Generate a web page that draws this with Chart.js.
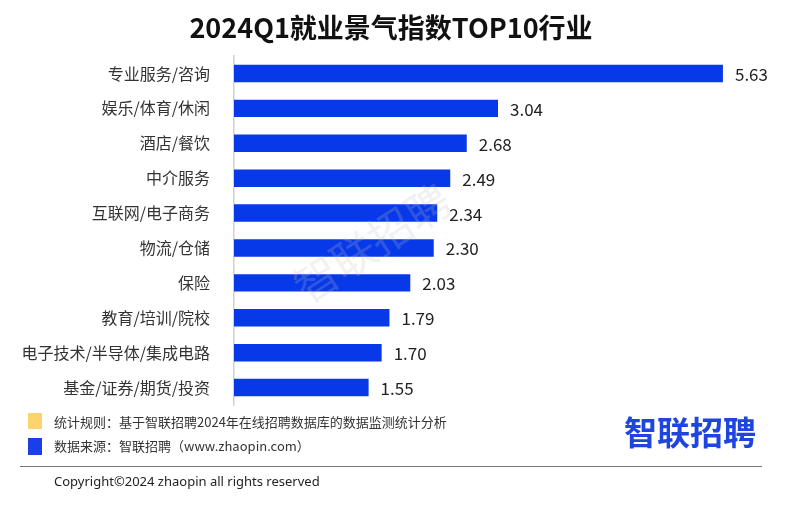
<!DOCTYPE html>
<html><head><meta charset="utf-8">
<script src="https://cdn.jsdelivr.net/npm/chart.js@4.4.1/dist/chart.umd.min.js"></script>
<style>html,body{margin:0;padding:0;background:#fff}#wrap{width:800px;height:510px}</style>
</head><body><div id="wrap"><canvas id="c" width="800" height="510"></canvas></div>
<script>
const categories = ['专业服务/咨询','娱乐/体育/休闲','酒店/餐饮','中介服务','互联网/电子商务','物流/仓储','保险','教育/培训/院校','电子技术/半导体/集成电路','基金/证券/期货/投资'];
const values = [5.63, 3.04, 2.68, 2.49, 2.34, 2.30, 2.03, 1.79, 1.70, 1.55];
const titleText = '2024Q1就业景气指数TOP10行业';
const noteRule = '统计规则：基于智联招聘2024年在线招聘数据库的数据监测统计分析';
const noteSource = '数据来源：智联招聘（www.zhaopin.com）';
const copyrightText = 'Copyright©2024 zhaopin all rights reserved';
const logoText = '智联招聘';

const CJK = '"Noto Sans CJK SC", "Noto Sans", sans-serif';
const BLUE = '#0839e8';

const valueLabels = {
  id: 'valueLabels',
  afterDatasetsDraw(chart) {
    const ctx = chart.ctx;
    const meta = chart.getDatasetMeta(0);
    ctx.save();
    ctx.font = '17px ' + CJK;
    ctx.fillStyle = '#222';
    ctx.textAlign = 'left';
    ctx.textBaseline = 'middle';
    meta.data.forEach((bar, i) => {
      ctx.fillText(values[i].toFixed(2), bar.x + 12, bar.y + 1);
    });
    ctx.restore();
  }
};

const decorations = {
  id: 'decorations',
  afterDraw(chart) {
    const ctx = chart.ctx;
    ctx.save();
    // watermark
    ctx.save();
    ctx.translate(372, 243);
    ctx.rotate(-33 * Math.PI / 180);
    ctx.font = '44px ' + CJK;
    ctx.fillStyle = 'rgba(190,190,190,0.22)';
    ctx.textAlign = 'center';
    ctx.textBaseline = 'middle';
    ctx.fillText(logoText, 0, 0);
    ctx.restore();
    // legend squares
    ctx.fillStyle = '#fbd46e';
    ctx.fillRect(28, 413, 14, 16);
    ctx.fillStyle = '#1a3ee8';
    ctx.fillRect(28, 438, 14, 17);
    ctx.fillStyle = '#333';
    ctx.font = '13px ' + CJK;
    ctx.textBaseline = 'middle';
    ctx.textAlign = 'left';
    ctx.fillText(noteRule, 54, 422);
    ctx.fillText(noteSource, 54, 446);
    // logo
    ctx.fillStyle = '#1f45e0';
    ctx.font = 'bold 33px ' + CJK;
    ctx.fillText(logoText, 624, 432);
    // divider
    ctx.strokeStyle = '#777';
    ctx.lineWidth = 1.2;
    ctx.beginPath();
    ctx.moveTo(20, 466.5);
    ctx.lineTo(762, 466.5);
    ctx.stroke();
    // copyright
    ctx.fillStyle = '#222';
    ctx.font = '13px "Noto Sans", sans-serif';
    ctx.fillText(copyrightText, 54, 482);
    ctx.restore();
  }
};

new Chart(document.getElementById('c'), {
  type: 'bar',
  data: {
    labels: categories,
    datasets: [{ data: values, backgroundColor: BLUE, barPercentage: 0.5, categoryPercentage: 1.0 }]
  },
  options: {
    indexAxis: 'y',
    responsive: false,
    animation: false,
    layout: { padding: { left: 0, right: 18, top: 0, bottom: 105 } },
    plugins: {
      legend: { display: false },
      tooltip: { enabled: false },
      title: {
        display: true,
        text: titleText,
        color: '#111',
        font: { family: CJK, size: 27, weight: 'bold', lineHeight: 1.2 },
        padding: { top: 12, bottom: 11.6 }
      }
    },
    scales: {
      x: { display: false, min: 0, max: 6.31 },
      y: {
        grid: { display: false },
        border: { display: true, color: '#d0d0d0', width: 1.5 },
        ticks: { color: '#333', font: { family: CJK, size: 16 }, padding: 16 },
        afterFit(s) { s.width = 234; }
      }
    }
  },
  plugins: [valueLabels, decorations]
});
</script>
</body></html>
